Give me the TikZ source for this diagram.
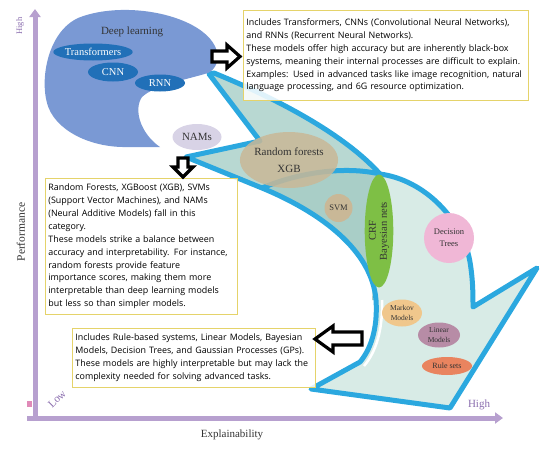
\documentclass[tikz,border=0pt]{standalone}
\usepackage{fontspec}
\setmainfont{Liberation Serif}
\newfontfamily\boxfont{Open Sans}
\usetikzlibrary{shapes.geometric,arrows.meta}
\definecolor{axisP}{HTML}{B7A0CF}
\definecolor{axisT}{HTML}{8A6DAE}
\definecolor{blobC}{HTML}{7A99D4}
\definecolor{dlell}{HTML}{2170B8}
\definecolor{arrBlue}{HTML}{2BA8DF}
\definecolor{fillL}{HTML}{D8EBE6}
\definecolor{fillM}{HTML}{B8D8D2}
\definecolor{fillD}{HTML}{A9CEC7}
\definecolor{tanC}{HTML}{C9B897}
\definecolor{namsC}{HTML}{D8D3E6}
\definecolor{crfC}{HTML}{7EBF45}
\definecolor{dtreeC}{HTML}{F0B7D6}
\definecolor{markovC}{HTML}{F0C78C}
\definecolor{linearC}{HTML}{B78CA6}
\definecolor{ruleC}{HTML}{E9845F}
\definecolor{boxB}{HTML}{E5D36A}
\definecolor{txt}{HTML}{333333}
\definecolor{pinkSq}{HTML}{E08AB8}
\tikzset{
  dlnode/.style={ellipse, fill=dlell, inner sep=0pt, text=white, font=\fontsize{10.5}{12}\selectfont},
  model/.style={ellipse, inner sep=0pt, text=txt, align=center},
  infobox/.style={draw=boxB, line width=0.8pt, fill=white, fill opacity=0.85, text opacity=1,
    anchor=north west, align=left, inner xsep=3pt, inner ysep=0pt, text=black,
    font=\boxfont\fontsize{8.9}{12.9}\selectfont},
  hollow/.style={draw=black, fill=white, line width=3.2pt, line join=miter},
  axislbl/.style={text=txt, font=\fontsize{11}{13}\selectfont},
  axisend/.style={text=axisT, font=\fontsize{11}{13}\selectfont},
}
\begin{document}
\begin{tikzpicture}[x=1pt,y=-1pt]
\useasboundingbox (0,0) rectangle (543,450);
% axes
\coordinate (yb) at (35,421);
\coordinate (yt) at (35,9);
\coordinate (xl) at (27,418);
\coordinate (xr) at (503,418);
\draw[axisP, line width=5pt, -{Triangle[length=8pt,width=11pt]}] (yb) -- (yt);
\draw[axisP, line width=5pt, -{Triangle[length=8pt,width=11pt]}] (xl) -- (xr);
\fill[pinkSq] (27,401) rectangle (32,407);
\node[axisend, rotate=90, font=\fontsize{8.5}{10}\selectfont] (hiY) at (20,26) {High};
\node[axislbl, rotate=90, font=\fontsize{11.5}{13}\selectfont] (perf) at (21,232) {Performance};
\node[axisend, rotate=45, inner sep=0pt] (lowl) at (57,399) {Low};
\node[axisend] (hiX) at (479,405) {High};
\node[axislbl] (expl) at (232,435) {Explainability};
% big curved arrow: fills
\fill[fillL] (214,73) .. controls (280,100) and (345,135) .. (380,174)
  .. controls (425,180) and (463,220) .. (470,262) .. controls (473,280) and (473,295) .. (473,307)
  -- (537,268) -- (450,408) -- (311,389) -- (360,362)
  .. controls (370,350) and (378,330) .. (376,300) .. controls (372,250) and (320,212) .. (262,188)
  -- (186,157) -- (260,141) -- (209,74) -- cycle;
\fill[fillM] (214,73) .. controls (280,100) and (345,135) .. (380,174)
  .. controls (345,166) and (300,172) .. (262,188) -- (186,157) -- (260,141) -- (209,74) -- cycle;
\fill[fillD] (262,188) .. controls (300,172) and (345,166) .. (380,174) -- (372,300) -- (376,300)
  .. controls (372,250) and (320,212) .. (262,188) -- cycle;
\draw[white, line width=2.5pt] (382,300) .. controls (383,330) and (376,352) .. (364,366);
% blue outline
\draw[arrBlue, line width=5pt, line join=round]
  (214,73) .. controls (280,100) and (345,135) .. (380,174)
  .. controls (425,180) and (463,220) .. (470,262) .. controls (473,280) and (473,295) .. (473,307)
  -- (537,268) -- (450,408) -- (311,389) -- (360,362)
  .. controls (370,350) and (378,330) .. (376,300) .. controls (372,250) and (320,212) .. (262,188)
  -- (186,157) -- (260,141) -- (209,74) -- cycle;
\draw[arrBlue, line width=5pt] (262,188) .. controls (300,172) and (345,166) .. (380,174);
% models inside arrow
\node[model, fill=namsC, minimum width=49pt, minimum height=26pt, font=\fontsize{11}{12}\selectfont] (nams) at (197,137) {NAMs};
\node[model, fill=tanC, fill opacity=0.85, text opacity=1, minimum width=78pt, minimum height=56pt, font=\fontsize{11}{17}\selectfont] (rf) at (289,160) {Random forests\\XGB};
\node[model, circle, fill=tanC, minimum size=28pt, font=\fontsize{8.5}{10}\selectfont] (svm) at (338.5,208) {SVM};
\node[model, fill=crfC, rotate=90, minimum width=113pt, minimum height=24pt, font=\fontsize{10.5}{11}\selectfont] (crf) at (379,231) {CRF\\Bayesian nets};
\node[model, circle, fill=dtreeC, minimum size=50pt, font=\fontsize{8.5}{12}\selectfont] (dt) at (449,238) {Decision\\Trees};
\node[model, fill=markovC, minimum width=40pt, minimum height=27pt, font=\fontsize{7.5}{9.5}\selectfont] (mk) at (402,313) {Markov\\Models};
\node[model, fill=linearC, minimum width=42pt, minimum height=25pt, font=\fontsize{7.5}{9.5}\selectfont] (lm) at (439,335) {Linear\\Models};
\node[model, fill=ruleC, minimum width=50pt, minimum height=18pt, font=\fontsize{8}{9}\selectfont] (rs) at (447,366) {Rule sets};
% deep learning blob
\fill[blobC] (208,73) .. controls (222,66) and (224,42) .. (192,25)
  .. controls (160,8) and (110,5) .. (78,18) .. controls (48,32) and (40,78) .. (47,103)
  .. controls (54,130) and (90,148) .. (128,147) -- (160,147)
  .. controls (141,134) and (133,110) .. (142,97) .. controls (155,85) and (185,80) .. (208,73) -- cycle;
\node[text=txt, font=\fontsize{11}{12}\selectfont] (dl) at (132,32) {Deep learning};
\node[dlnode, minimum width=70pt, minimum height=17pt] (tr) at (93,52) {Transformers};
\node[dlnode, minimum width=50pt, minimum height=19pt] (cnn) at (113,72) {CNN};
\node[dlnode, minimum width=50pt, minimum height=17pt] (rnn) at (160,83) {RNN};
% info boxes
\node[infobox, text width=279pt, minimum width=285pt, minimum height=90pt] (boxTop) at (243,10)
{Includes Transformers, CNNs (Convolutional Neural Networks),\\
and RNNs (Recurrent Neural Networks).\\
These models offer high accuracy but are inherently black-box\\
systems, meaning their internal processes are difficult to explain.\\
Examples: Used in advanced tasks like image recognition, natural\\
language processing, and 6G resource optimization.};
\node[infobox, text width=186pt, minimum width=192pt, minimum height=136pt] (boxMid) at (45,178)
{Random Forests, XGBoost (XGB), SVMs\\
(Support Vector Machines), and NAMs\\
(Neural Additive Models) fall in this\\
category.\\
These models strike a balance between\\
accuracy and interpretability. For instance,\\
random forests provide feature\\
importance scores, making them more\\
interpretable than deep learning models\\
but less so than simpler models.};
\node[infobox, text width=237pt, minimum width=243pt, minimum height=59pt] (boxBot) at (72,328)
{Includes Rule-based systems, Linear Models, Bayesian\\
Models, Decision Trees, and Gaussian Processes (GPs).\\
These models are highly interpretable but may lack the\\
complexity needed for solving advanced tasks.};
% hollow pointer arrows
\draw[hollow] (212,51) -- (227,51) -- (227,45) -- (240,56.5) -- (227,68) -- (227,62) -- (212,62) -- cycle;
\draw[hollow] (178,158) -- (188,158) -- (188,167) -- (193,167) -- (183,177) -- (173,167) -- (178,167) -- cycle;
\draw[hollow] (362,332) -- (333,332) -- (333,326) -- (315,339) -- (333,352) -- (333,345) -- (362,345) -- cycle;
\end{tikzpicture}
\end{document}
